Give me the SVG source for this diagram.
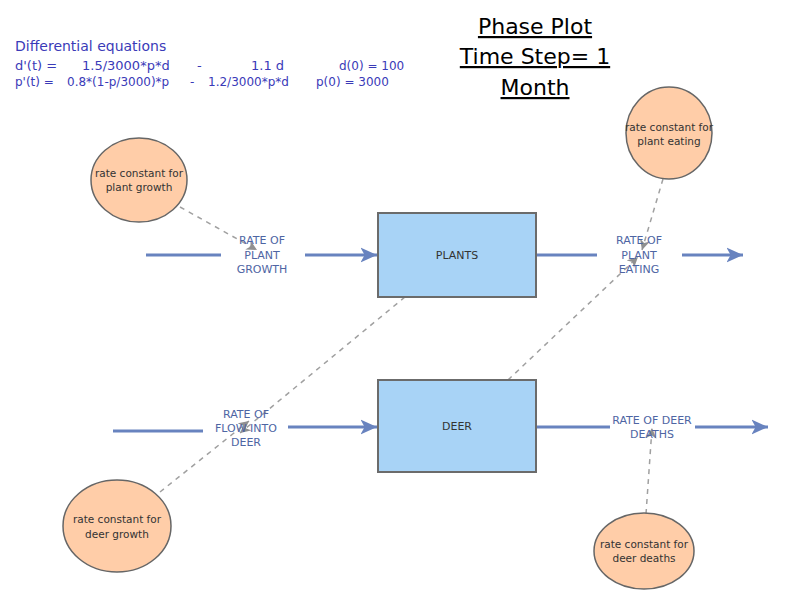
<svg xmlns="http://www.w3.org/2000/svg" width="788" height="600" viewBox="0 0 788 600">
<defs>
<style>
.stock{fill:#a8d3f6;stroke:#6b6b6b;stroke-width:2}
.aux{fill:#ffcda8;stroke:#666;stroke-width:1.5}
.flow{stroke:#6883bf;stroke-width:3;fill:none}
.link{stroke:#a0a0a0;stroke-width:1.5;stroke-dasharray:5 5;fill:none}
.lbl{font-family:"DejaVu Sans",sans-serif;font-size:11px;fill:#4e65a3;text-anchor:middle}
.stk{font-family:"DejaVu Sans",sans-serif;font-size:11px;fill:#333;text-anchor:middle}
.aux-t{font-family:"DejaVu Sans",sans-serif;font-size:10.5px;fill:#333;text-anchor:middle}
.eq{font-family:"DejaVu Sans",sans-serif;fill:#3a3ab8}
.title{font-family:"DejaVu Sans",sans-serif;font-size:22px;fill:#000;text-anchor:middle;text-decoration:underline}
</style>
<marker id="fa" viewBox="0 0 10 10" refX="10" refY="5" markerWidth="5.5" markerHeight="5.5" markerUnits="strokeWidth" orient="auto">
<path d="M0,0.5 L10,5 L0,9.5 L2.5,5 Z" fill="#6883bf"/>
</marker>
<marker id="la" viewBox="0 0 10 10" refX="10" refY="5" markerWidth="7" markerHeight="7" markerUnits="strokeWidth" orient="auto">
<path d="M0,0 L10,5 L0,10 L3,5 Z" fill="#909090"/>
</marker>
</defs>
<rect width="788" height="600" fill="#fff"/>

<g id="title">
<text class="title" x="535" y="34">Phase Plot</text>
<text class="title" x="535" y="64">Time Step= 1</text>
<text class="title" x="535" y="95">Month</text>
</g>

<g id="equations">
<text class="eq" x="15" y="51" font-size="14">Differential equations</text>
<text class="eq" x="15" y="70" font-size="13">d'(t) =</text>
<text class="eq" x="82" y="70" font-size="13">1.5/3000*p*d</text>
<text class="eq" x="197" y="70" font-size="13">-</text>
<text class="eq" x="251" y="70" font-size="13">1.1 d</text>
<text class="eq" x="339" y="70" font-size="12">d(0) = 100</text>
<text class="eq" x="15" y="86" font-size="12">p'(t) =</text>
<text class="eq" x="67" y="86" font-size="12">0.8*(1-p/3000)*p</text>
<text class="eq" x="190" y="86" font-size="12">-</text>
<text class="eq" x="208" y="86" font-size="12">1.2/3000*p*d</text>
<text class="eq" x="316" y="86" font-size="12">p(0) = 3000</text>
</g>

<g id="connectors">
<line class="flow" x1="146" y1="255" x2="221" y2="255"/>
<line class="flow" x1="305" y1="255" x2="377" y2="255" marker-end="url(#fa)"/>
<line class="flow" x1="537" y1="255" x2="597" y2="255"/>
<line class="flow" x1="682" y1="255" x2="743" y2="255" marker-end="url(#fa)"/>
<line class="flow" x1="113" y1="431" x2="203" y2="431"/>
<line class="flow" x1="288" y1="427" x2="377" y2="427" marker-end="url(#fa)"/>
<line class="flow" x1="537" y1="427" x2="610" y2="427"/>
<line class="flow" x1="695" y1="427" x2="768" y2="427" marker-end="url(#fa)"/>
<line class="link" x1="180" y1="207" x2="257" y2="250" marker-end="url(#la)"/>
<line class="link" x1="405" y1="297" x2="240" y2="433" marker-end="url(#la)"/>
<line class="link" x1="160" y1="492" x2="249" y2="421" marker-end="url(#la)"/>
<line class="link" x1="508" y1="380" x2="638" y2="257" marker-end="url(#la)"/>
<line class="link" x1="663" y1="179" x2="642" y2="250" marker-end="url(#la)"/>
<line class="link" x1="646" y1="514" x2="652" y2="428" marker-end="url(#la)"/>
</g>

<g id="rate-plant-growth">
<text class="lbl" x="262" y="244">RATE OF</text>
<text class="lbl" x="262" y="259">PLANT</text>
<text class="lbl" x="262" y="273">GROWTH</text>
</g>
<g id="rate-plant-eating">
<text class="lbl" x="639" y="244">RATE OF</text>
<text class="lbl" x="639" y="259">PLANT</text>
<text class="lbl" x="639" y="273">EATING</text>
</g>
<g id="rate-flow-into-deer">
<text class="lbl" x="246" y="418">RATE OF</text>
<text class="lbl" x="246" y="432">FLOW INTO</text>
<text class="lbl" x="246" y="446">DEER</text>
</g>
<g id="rate-deer-deaths">
<text class="lbl" x="652" y="424">RATE OF DEER</text>
<text class="lbl" x="652" y="438">DEATHS</text>
</g>

<g id="plants">
<rect class="stock" x="378" y="213" width="158" height="84"/>
<text class="stk" x="457" y="259">PLANTS</text>
</g>
<g id="deer">
<rect class="stock" x="378" y="380" width="158" height="92"/>
<text class="stk" x="457" y="430">DEER</text>
</g>

<g id="rc-plant-growth">
<ellipse class="aux" cx="139" cy="180" rx="48" ry="42"/>
<text class="aux-t" x="139" y="177">rate constant for</text>
<text class="aux-t" x="139" y="191">plant growth</text>
</g>
<g id="rc-plant-eating">
<ellipse class="aux" cx="669" cy="133" rx="43" ry="46"/>
<text class="aux-t" x="669" y="131">rate constant for</text>
<text class="aux-t" x="669" y="145">plant eating</text>
</g>
<g id="rc-deer-growth">
<ellipse class="aux" cx="117" cy="526" rx="54" ry="46"/>
<text class="aux-t" x="117" y="523">rate constant for</text>
<text class="aux-t" x="117" y="538">deer growth</text>
</g>
<g id="rc-deer-deaths">
<ellipse class="aux" cx="644" cy="551" rx="50" ry="38"/>
<text class="aux-t" x="644" y="548">rate constant for</text>
<text class="aux-t" x="644" y="562">deer deaths</text>
</g>
</svg>
